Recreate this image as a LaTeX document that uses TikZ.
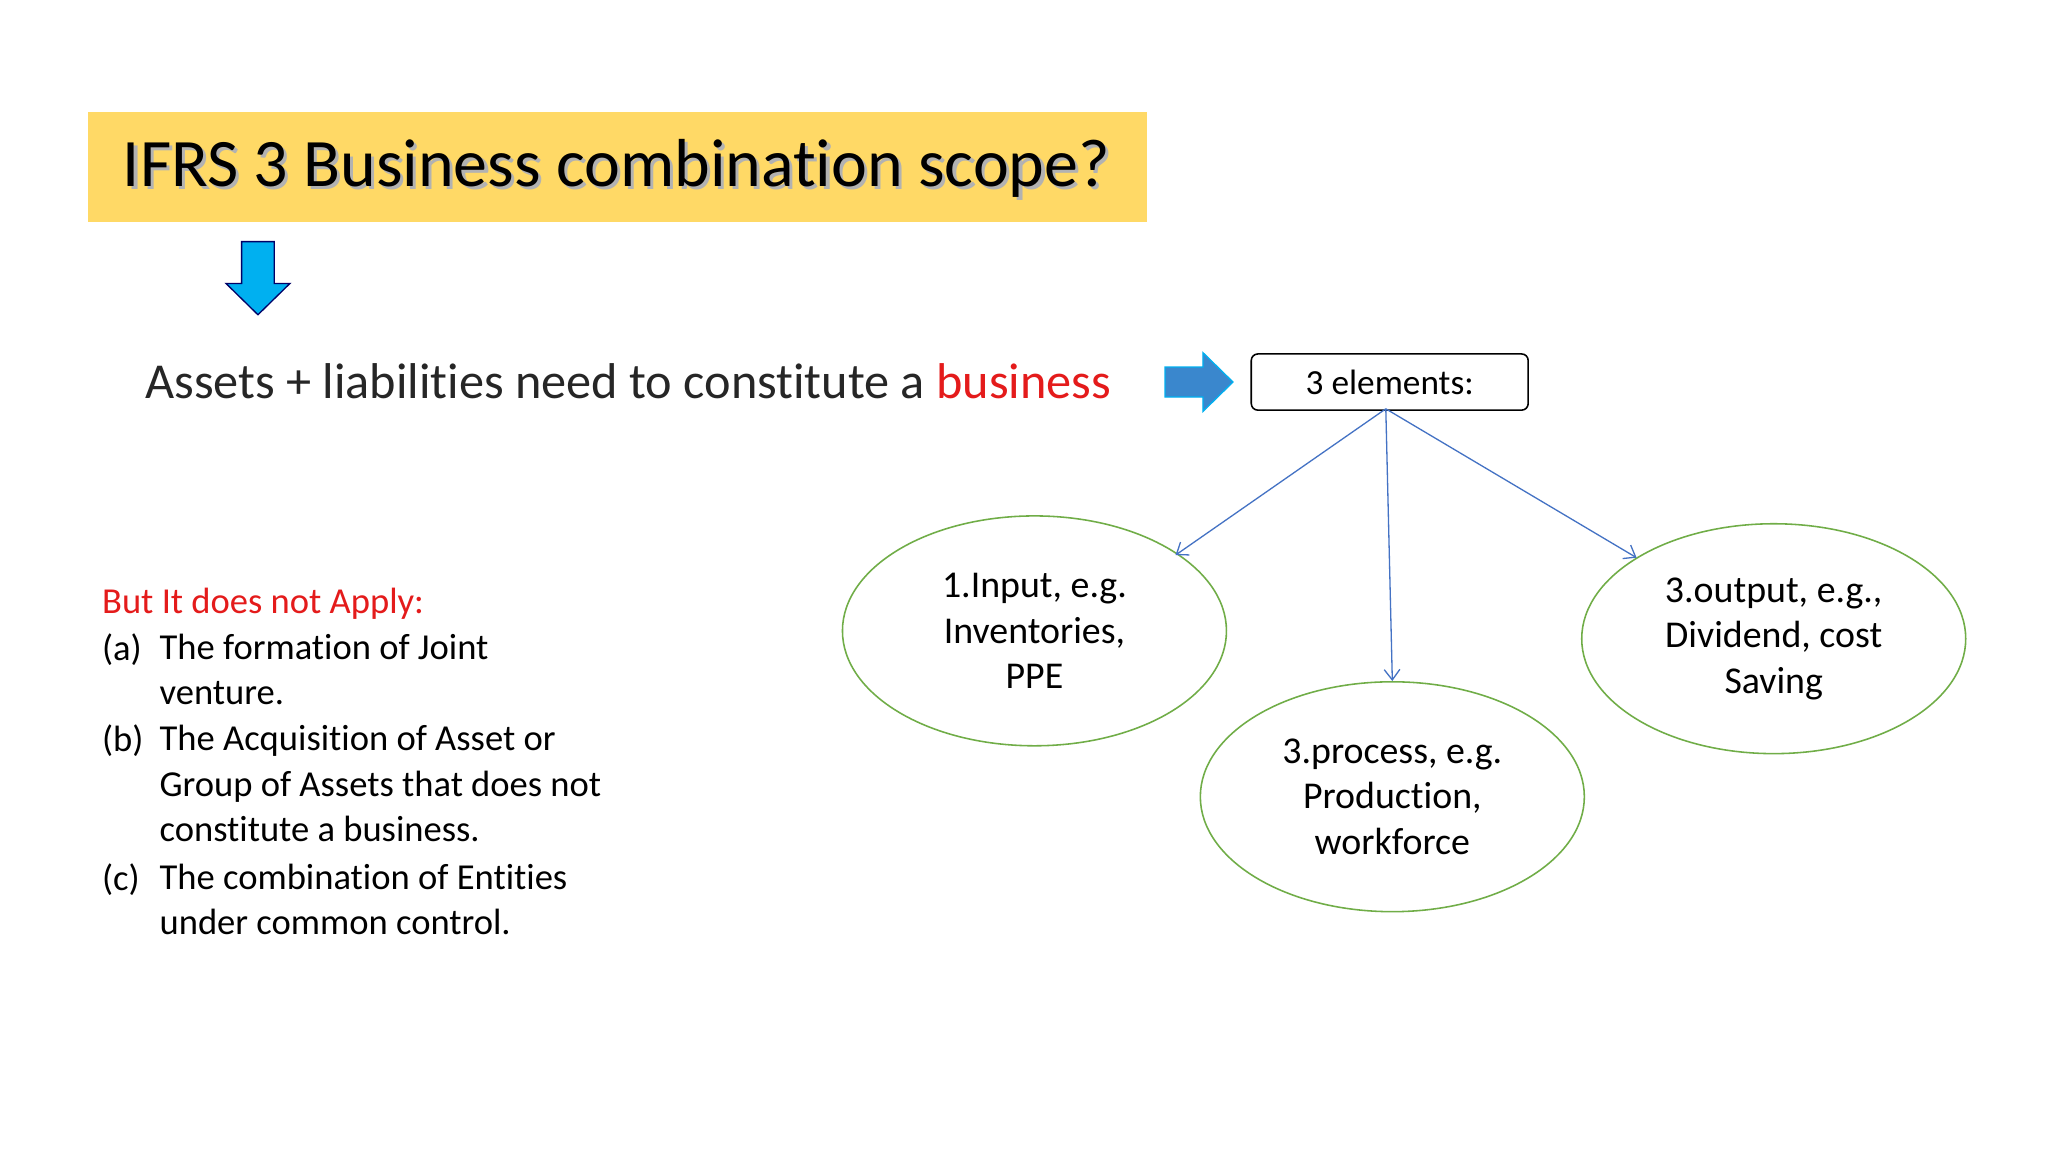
\documentclass[tikz,border=0pt]{standalone}
\usepackage{fontspec}
\setmainfont[Ligatures=CommonOff]{Carlito}
\usetikzlibrary{shapes.geometric,arrows.meta}
\definecolor{titley}{HTML}{FFD966}
\definecolor{ell}{HTML}{70AD47}
\definecolor{arr}{HTML}{4472C4}
\definecolor{txt}{HTML}{262626}
\definecolor{redt}{HTML}{E41B1B}
\definecolor{cy}{HTML}{00B0F0}
\tikzset{
  elem/.style={ellipse,draw=ell,line width=1.2pt,minimum width=294pt,minimum height=176pt,align=center,font=\fontsize{29}{35}\selectfont,text=black},
  conn/.style={draw=arr,line width=1pt,-{Straight Barb[length=8pt,width=12pt]}},
  body/.style={anchor=north west,align=left,font=\fontsize{28}{35}\selectfont,text=black,inner sep=0pt}
}
\begin{document}
\begin{tikzpicture}[x=1pt,y=-1pt]
\useasboundingbox (0,0) rectangle (1568,882);
\fill[white] (0,0) rectangle (1568,882);
\fill[titley] (67,86) rectangle (878,170);
\node[font=\fontsize{52}{56}\selectfont,text=black!30] (titleshadow) at (474.5,131.5) {IFRS 3 Business combination scope?};
\node[font=\fontsize{52}{56}\selectfont,text=black] (title) at (472,129) {IFRS 3 Business combination scope?};
\filldraw[fill=cy,draw=black!60!blue,line width=1pt] (185,185) -- (210,185) -- (210,217) -- (222,217) -- (197.5,241) -- (173,217) -- (185,217) -- cycle;
\node[anchor=west,font=\fontsize{38.5}{42}\selectfont,text=txt,inner sep=0pt] (assets) at (111,292) {Assets + liabilities need to constitute a \textcolor{redt}{business}};
\filldraw[fill=arr!85!cyan,draw=cy,line width=1pt] (892,281) -- (921,281) -- (921,270) -- (944,292.5) -- (921,315) -- (921,304) -- (892,304) -- cycle;
\node[draw=black,line width=1.2pt,rounded corners=5pt,minimum width=212pt,minimum height=43pt,font=\fontsize{27}{30}\selectfont] (three) at (1064,292.5) {3 elements:};
\node[elem] (in) at (792,483) {1.Input, e.g.\\Inventories,\\PPE};
\node[elem] (proc) at (1066,610) {3.process, e.g.\\Production,\\workforce};
\node[elem] (out) at (1358,489) {3.output, e.g.,\\Dividend, cost\\Saving};
\coordinate (src) at (1061,313);
\draw[conn] (src) -- (900,425);
\draw[conn] (src) -- (proc.north);
\draw[conn] (src) -- (1253,427);
\node[body,text=redt] (but) at (78,450) {But It does not Apply:};
\node[body] (a) at (78,485) {(a)};
\node[body] (at) at (122,485) {The formation of Joint\\venture.};
\node[body] (b) at (78,555) {(b)};
\node[body] (bt) at (122,555) {The Acquisition of Asset or\\Group of Assets that does not\\constitute a business.};
\node[body] (c) at (78,661) {(c)};
\node[body] (ct) at (122,661) {The combination of Entities\\under common control.};
\end{tikzpicture}
\end{document}
